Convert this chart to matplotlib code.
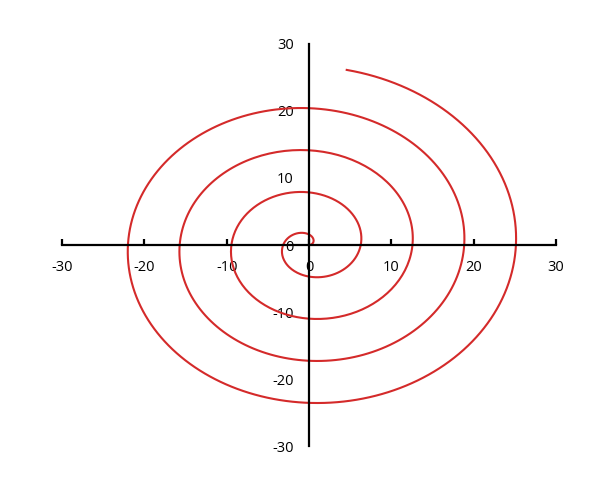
import numpy as np
import matplotlib
matplotlib.use('Agg')
import matplotlib.pyplot as plt
from matplotlib import rcParams

rcParams['font.family'] = ['Open Sans', 'DejaVu Sans']
rcParams['axes.unicode_minus'] = False

# 螺线参数（从图中坐标轴交点读出：每圈半径增加约 2π，即 r = θ）
growth = 1.0          # 每弧度增加的半径
theta_start = 0.0
theta_end = 26.53     # 终点约在 (4.6, 26)
n_samples = 800

x_ticks = [-30, -20, -10, 0, 10, 20, 30]
y_ticks = [-30, -20, -10, 0, 10, 20, 30]

theta = np.linspace(theta_start, theta_end, n_samples)
r = growth * theta
x = r * np.cos(theta)
y = r * np.sin(theta)

fig = plt.figure(figsize=(6.12, 4.84), dpi=100)
fig.set_facecolor('white')
ax = fig.add_axes([0.1013, 0.0785, 0.8072, 0.8306])

ax.plot(x, y, color='#d42a2a', linewidth=1.5)

ax.set_xlim(-30, 30)
ax.set_ylim(-30, 30)
ax.set_xticks(x_ticks)
ax.set_yticks(y_ticks)

# 坐标轴交于原点
ax.spines['left'].set_position('zero')
ax.spines['bottom'].set_position('zero')
ax.spines['right'].set_visible(False)
ax.spines['top'].set_visible(False)
for side in ['left', 'bottom']:
    ax.spines[side].set_linewidth(1.6)
    ax.spines[side].set_color('black')

ax.tick_params(axis='x', direction='in', length=4, width=1.6,
               labelsize=10.5, pad=10.5, colors='black')
ax.tick_params(axis='y', length=0, labelsize=10.5, pad=11, colors='black')

plt.savefig('out.png', dpi=100, facecolor='white')
